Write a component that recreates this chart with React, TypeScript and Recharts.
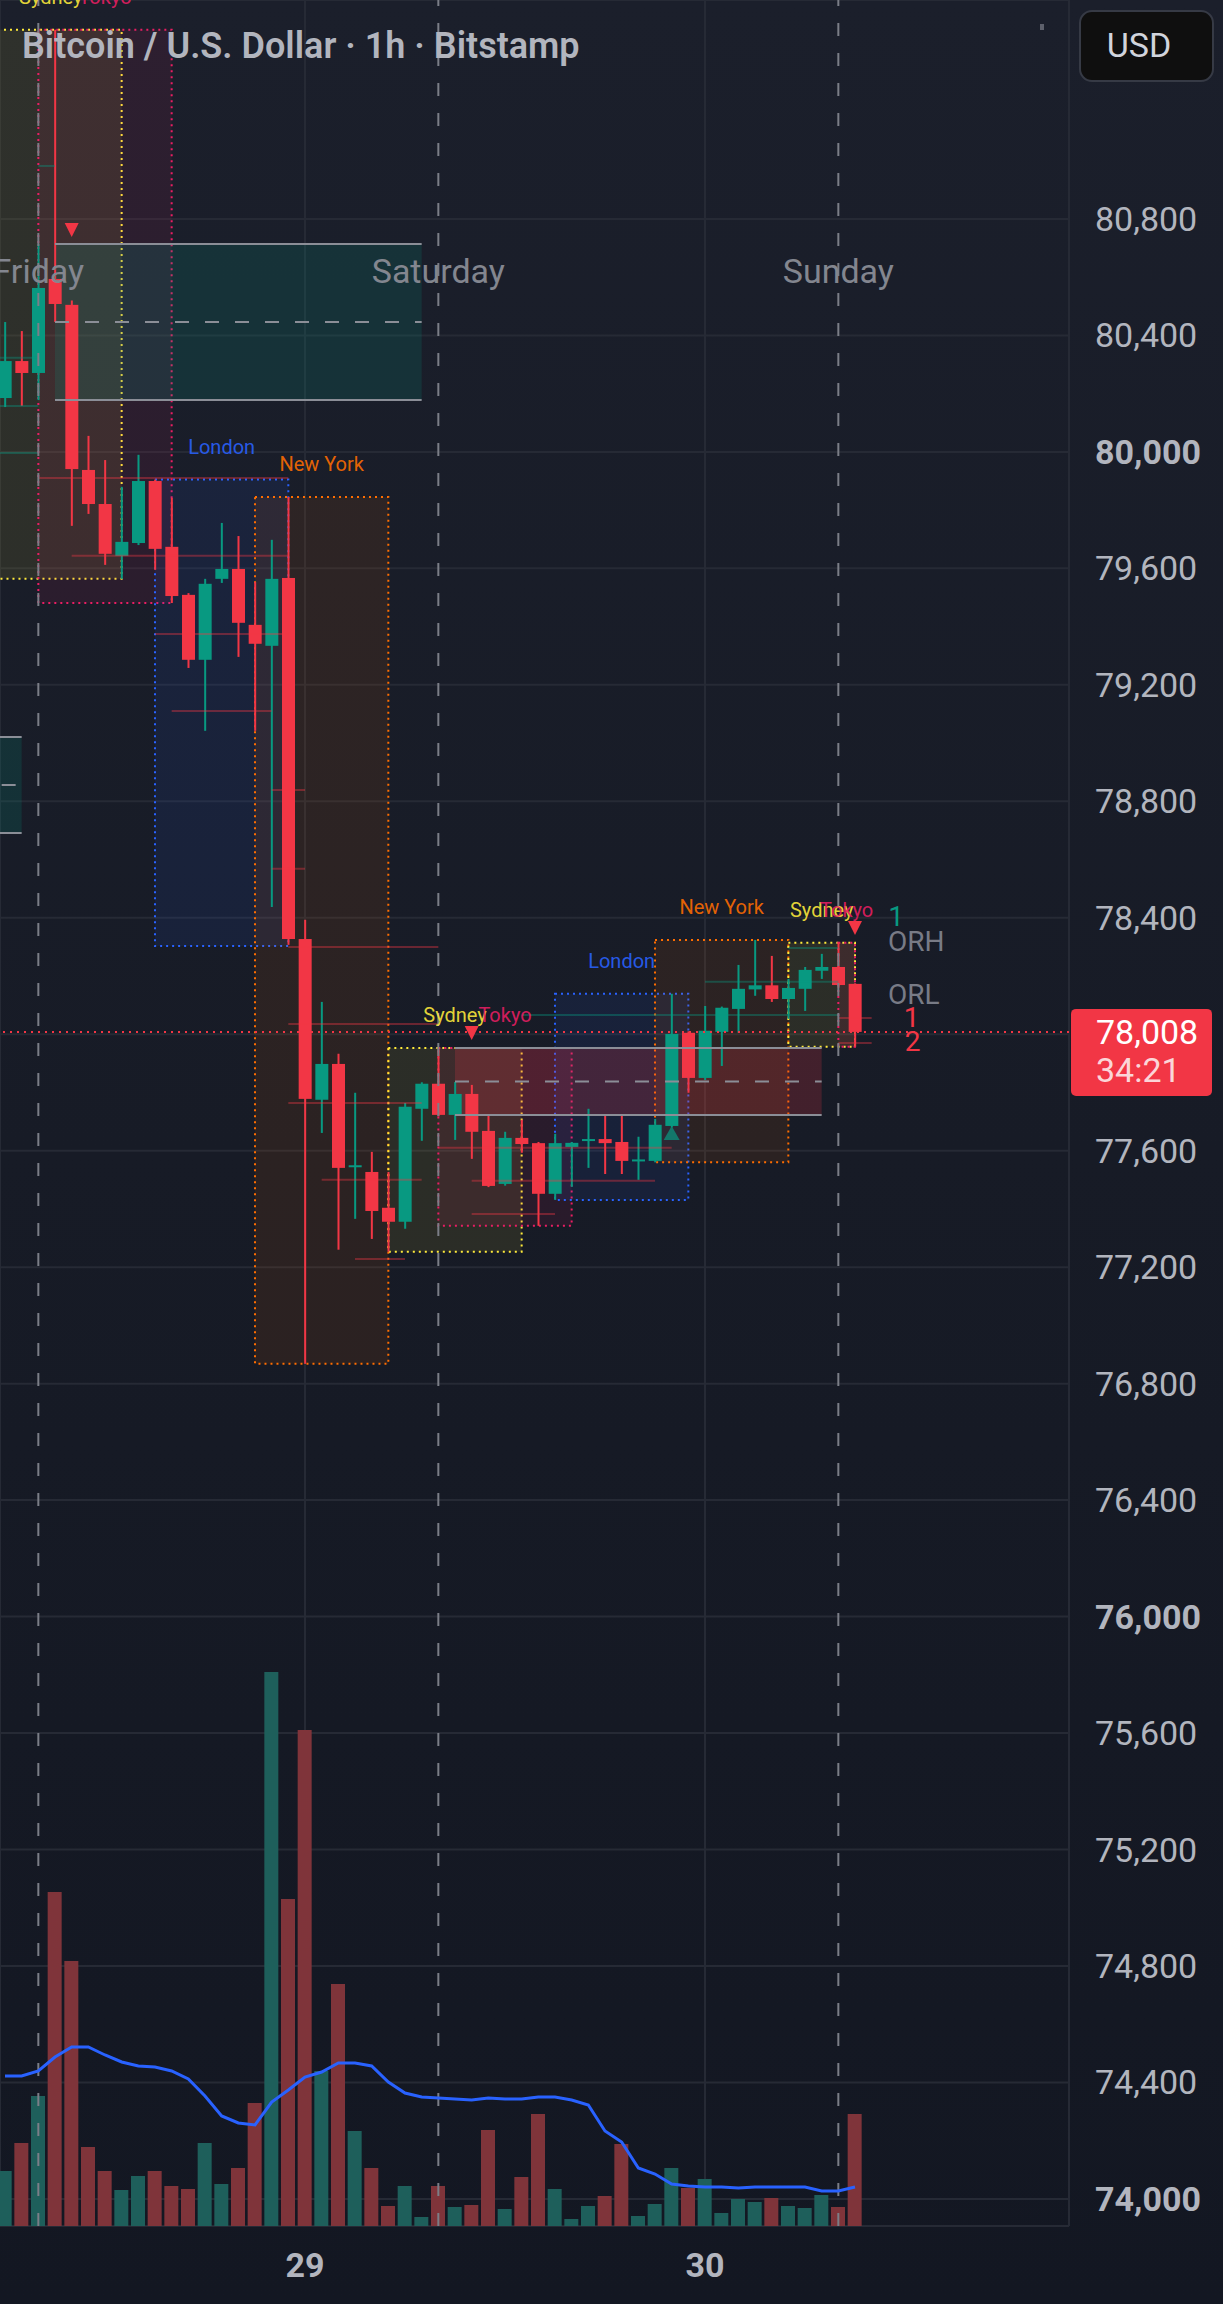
import {
  Bar,
  CartesianGrid,
  Cell,
  ComposedChart,
  Line,
  ReferenceArea,
  ReferenceDot,
  ReferenceLine,
  XAxis,
  YAxis,
} from "recharts";

const UP = "#089981";
const DOWN = "#f23645";
const VOL_UP = "#1e5f5b";
const VOL_DOWN = "#7f343a";
const TEXT = "#b2b5be";
const BORDER = "#8b8e97";
const FONT = "Roboto, 'Open Sans', sans-serif";

// BTCUSD 1h (Bitstamp), first bar = 28th 06:00
const opens = [80185, 80312, 80271, 80594, 80505, 79938, 79821, 79643, 79687, 79900, 79674, 79509, 79286, 79564, 79598, 79406, 79334, 79567, 78327, 77775, 77898, 77545, 77527, 77404, 77356, 77744, 77830, 77723, 77795, 77668, 77486, 77644, 77626, 77452, 77613, 77636, 77640, 77630, 77565, 77565, 77685, 78005, 77850, 78008, 78087, 78154, 78168, 78121, 78156, 78218, 78231, 78173];
const highs = [80446, 80415, 80714, 81450, 80520, 80055, 79972, 79880, 79990, 79905, 79842, 79515, 79564, 79756, 79711, 79553, 79698, 79845, 78393, 78111, 77933, 77799, 77596, 77527, 77764, 77835, 77953, 77836, 77826, 77723, 77665, 77706, 77630, 77658, 77630, 77744, 77723, 77723, 77648, 77709, 78139, 78010, 78097, 78095, 78238, 78324, 78269, 78190, 78231, 78276, 78314, 78175];
const lows = [80154, 80158, 80178, 80446, 79746, 79787, 79612, 79564, 79680, 79595, 79481, 79258, 79042, 79550, 79296, 79042, 78437, 78307, 76868, 77661, 77260, 77366, 77297, 77253, 77332, 77634, 77718, 77637, 77572, 77475, 77480, 77593, 77342, 77431, 77476, 77541, 77520, 77520, 77500, 77560, 77680, 77799, 77843, 77891, 78005, 78132, 78111, 78053, 78080, 78190, 78160, 77957];
const closes = [80312, 80271, 80563, 80508, 79941, 79821, 79650, 79691, 79900, 79667, 79505, 79286, 79547, 79598, 79413, 79341, 79564, 78327, 77778, 77898, 77541, 77550, 77393, 77356, 77751, 77830, 77723, 77795, 77665, 77479, 77644, 77623, 77452, 77626, 77627, 77640, 77626, 77565, 77570, 77689, 78001, 77850, 78012, 78091, 78156, 78168, 78121, 78159, 78221, 78231, 78169, 78008];
const volumes = [11, 16.6, 26, 66.8, 53, 15.8, 11, 7.2, 10, 11, 8, 7.4, 16.6, 8.4, 11.6, 24.6, 110.8, 65.4, 99.2, 31, 48.4, 19, 11.6, 4, 8, 1.8, 8, 3.8, 4.2, 19.2, 3.4, 9.8, 22.4, 7.4, 1.4, 4, 6, 16.4, 2, 4.4, 11.6, 7.6, 9.4, 2.6, 5.4, 4.8, 5.6, 4, 3.6, 6.2, 3.8, 22.4];
const volumeMA = [30, 30, 31, 33.8, 35.8, 35.8, 34.2, 32.8, 32, 31.8, 31, 29.4, 26, 22, 20.6, 20.2, 24.8, 27.2, 29.8, 30.8, 32.6, 32.6, 32, 28.8, 26.6, 25.8, 25.6, 25.4, 25.2, 25.6, 25.4, 25.4, 25.8, 25.8, 25.2, 24.2, 19, 16.8, 11.6, 10.4, 8.4, 8, 7.8, 7.8, 7.6, 7.8, 7.8, 7.8, 7.8, 7, 7, 7.8];

const priceTicks = [74000, 74400, 74800, 75200, 75600, 76000, 76400, 76800, 77200, 77600, 78000, 78400, 78800, 79200, 79600, 80000, 80400, 80800];
const dayTicks = [18, 42];
const dayTickLabels = ["29", "30"];
const dayStarts = [2, 26, 50];
const dayNames = ["Friday", "Saturday", "Sunday"];
const countdown = "34:21";

// sessions: name, first bar, last bar, high, low
const sessions: [string, number, number, number, number][] = [
  ["Sydney", -1.5, 7, 81450, 79564],
  ["Tokyo", 2, 10, 81450, 79481],
  ["London", 9, 17, 79905, 78303],
  ["New York", 15, 23, 79845, 76868],
  ["Sydney", 23, 31, 77953, 77253],
  ["Tokyo", 26, 34, 77953, 77342],
  ["London", 33, 41, 78139, 77431],
  ["New York", 39, 47, 78324, 77560],
  ["Sydney", 47, 51, 78314, 77957],
  ["Tokyo", 50, 51, 78314, 77957],
];
const sessionColors: Record<string, string> = {
  Sydney: "#ffeb3b",
  Tokyo: "#e91e63",
  London: "#2962ff",
  "New York": "#ff6d00",
};

// order-block style zones: from, to, top, bottom, direction
const zones: [number, number, number, number, "up" | "down"][] = [
  [-2, 1, 79021, 78691, "up"],
  [3, 25, 80714, 80178, "up"],
  [27, 49, 77953, 77723, "down"],
];

// faint levels: from, to, price, direction
const levels: [number, number, number, "up" | "down"][] = [
  [2, 17, 79910, "down"],
  [4, 17, 79643, "down"],
  [9, 17, 79375, "down"],
  [10, 16, 79110, "down"],
  [16, 18, 78839, "down"],
  [16, 18, 78568, "down"],
  [17, 26, 78300, "down"],
  [17, 26, 78035, "down"],
  [17, 25, 77764, "down"],
  [19, 25, 77500, "down"],
  [21, 24, 77228, "down"],
  [26, 40, 77610, "down"],
  [28, 39, 77497, "down"],
  [28, 33, 77383, "down"],
  [50, 52, 78056, "down"],
  [50, 52, 77970, "down"],
  [-1, 2, 80323, "up"],
  [-1, 2, 80158, "up"],
  [-1, 2, 79996, "up"],
  [2, 3, 80982, "up"],
  [31, 50, 78066, "up"],
  [42, 50, 78180, "up"],
  [47, 50, 78296, "up"],
];

// signal triangles: bar, tip price, direction
const markers: [number, number, "up" | "down"][] = [
  [4, 80738, "down"],
  [28, 77980, "down"],
  [40, 77685, "up"],
  [51, 78341, "down"],
];

// right side tags: text, bar position, price, colour, anchor
const tags: [string, number, number, string, "start" | "middle"][] = [
  ["1", 53.46, 78403, UP, "middle"],
  ["ORH", 52.98, 78317, "#787b86", "start"],
  ["ORL", 52.98, 78138, "#787b86", "start"],
  ["1", 54.4, 78059, DOWN, "middle"],
  ["2", 54.45, 77974, DOWN, "middle"],
];

const lastClose = closes[closes.length - 1];
const fmt = (v: number) => v.toLocaleString("en-US");

const data = opens.map((o, i) => ({
  i,
  o,
  h: highs[i],
  l: lows[i],
  c: closes[i],
  range: [lows[i], highs[i]],
  vol: volumes[i],
  ma: volumeMA[i],
}));

const X_DOMAIN: [number, number] = [-0.3, 63.84];

function Candle(props: any) {
  const { x, y, width, height, payload } = props;
  const { o, h, l, c } = payload;
  const top0 = Math.min(y, y + height);
  const full = Math.abs(height);
  const span = h - l || 1;
  const py = (p: number) => top0 + ((h - p) / span) * full;
  const color = c >= o ? UP : DOWN;
  const cx = x + width / 2;
  const bt = py(Math.max(o, c));
  const bb = py(Math.min(o, c));
  return (
    <g>
      <rect x={cx - 1} y={top0} width={2} height={full} fill={color} />
      <rect x={x} y={bt} width={width} height={Math.max(bb - bt, 2)} fill={color} />
    </g>
  );
}

function PriceTick(props: any) {
  const { x, y, payload } = props;
  const v = payload.value;
  if (Math.abs(v - lastClose) < 150) return <g />;
  return (
    <text
      x={x + 24}
      y={y}
      dominantBaseline="central"
      fill={TEXT}
      fontSize={34}
      fontFamily={FONT}
      fontWeight={v % 2000 === 0 ? 700 : 400}
    >
      {fmt(v)}
    </text>
  );
}

function TimeTick(props: any) {
  const { x, y, payload } = props;
  const label = dayTickLabels[dayTicks.indexOf(payload.value)];
  return (
    <text
      x={x}
      y={y + 37}
      textAnchor="middle"
      dominantBaseline="central"
      fill={TEXT}
      fontSize={34}
      fontWeight={700}
      fontFamily={FONT}
    >
      {label}
    </text>
  );
}

function PriceTag(props: any) {
  const { viewBox } = props;
  if (!viewBox) return null;
  const left = viewBox.x + viewBox.width + 2;
  const y = viewBox.y;
  return (
    <g>
      <rect x={left} y={y - 23} width={141} height={87} rx={5} fill={DOWN} />
      <text x={left + 25} y={y} dominantBaseline="central" fill="#ffffff" fontSize={34} fontFamily={FONT}>
        {fmt(lastClose)}
      </text>
      <text x={left + 25} y={y + 38} dominantBaseline="central" fill="#fbd5d8" fontSize={34} fontFamily={FONT}>
        {countdown}
      </text>
    </g>
  );
}

export default function App() {
  return (
    <div
      style={{
        position: "absolute",
        left: 0,
        top: 0,
        width: 1223,
        height: 2304,
        overflow: "hidden",
        background: "linear-gradient(180deg, #1b1f2b 0%, #171b26 50%, #131722 100%)",
        fontFamily: FONT,
      }}
    >
      <ComposedChart width={1223} height={2304} data={data} margin={{ top: 0, right: 0, bottom: 0, left: 0 }}>
        <CartesianGrid xAxisId="x" yAxisId="p" stroke="#262a35" strokeWidth={2} />
        <XAxis
          xAxisId="x"
          type="number"
          dataKey="i"
          domain={X_DOMAIN}
          allowDataOverflow
          ticks={dayTicks}
          interval={0}
          height={78}
          axisLine={false}
          tickLine={false}
          tickSize={0}
          tick={<TimeTick />}
        />
        <XAxis xAxisId="xv" type="number" dataKey="i" domain={X_DOMAIN} allowDataOverflow hide />
        <YAxis
          yAxisId="p"
          orientation="right"
          width={154}
          domain={[73907, 81552]}
          allowDataOverflow
          ticks={priceTicks}
          interval={0}
          axisLine={false}
          tickLine={false}
          tickSize={0}
          tick={<PriceTick />}
        />
        <YAxis yAxisId="v" domain={[0, 445.2]} allowDataOverflow hide />

        {sessions.map(([name, from, to, hi, lo], k) => (
          <ReferenceArea
            key={`s${k}`}
            xAxisId="x"
            yAxisId="p"
            x1={from}
            x2={to}
            y1={lo}
            y2={hi}
            ifOverflow="hidden"
            fill={sessionColors[name]}
            fillOpacity={0.09}
            stroke={sessionColors[name]}
            strokeWidth={2}
            strokeDasharray="2 4"
          />
        ))}

        {zones.map(([from, to, top, bottom, dir], k) => (
          <ReferenceArea
            key={`z${k}`}
            xAxisId="x"
            yAxisId="p"
            x1={from}
            x2={to}
            y1={bottom}
            y2={top}
            ifOverflow="hidden"
            fill={dir === "up" ? UP : DOWN}
            fillOpacity={dir === "up" ? 0.17 : 0.2}
            strokeWidth={0}
          />
        ))}
        {zones.flatMap(([from, to, top, bottom], k) =>
          [top, bottom, (top + bottom) / 2].map((p, j) => (
            <ReferenceLine
              key={`zl${k}-${j}`}
              xAxisId="x"
              yAxisId="p"
              segment={[
                { x: from, y: p },
                { x: to, y: p },
              ]}
              ifOverflow="hidden"
              stroke={BORDER}
              strokeWidth={2}
              strokeDasharray={j === 2 ? "14 16" : undefined}
            />
          ))
        )}

        {levels.map(([from, to, p, dir], k) => (
          <ReferenceLine
            key={`l${k}`}
            xAxisId="x"
            yAxisId="p"
            segment={[
              { x: from, y: p },
              { x: to, y: p },
            ]}
            ifOverflow="hidden"
            stroke={dir === "up" ? UP : DOWN}
            strokeOpacity={0.38}
            strokeWidth={2}
          />
        ))}

        {dayStarts.map((d, k) => (
          <ReferenceLine
            key={`d${k}`}
            xAxisId="x"
            yAxisId="p"
            x={d}
            stroke="#7b7e87"
            strokeWidth={2}
            strokeDasharray="13 17"
          />
        ))}

        <Bar xAxisId="xv" yAxisId="v" dataKey="vol" barSize={14} isAnimationActive={false}>
          {data.map((d, k) => (
            <Cell key={k} fill={d.c >= d.o ? VOL_UP : VOL_DOWN} />
          ))}
        </Bar>
        <Line
          xAxisId="xv"
          yAxisId="v"
          dataKey="ma"
          type="linear"
          stroke="#2962ff"
          strokeWidth={3}
          dot={false}
          activeDot={false}
          isAnimationActive={false}
        />
        <Bar
          xAxisId="x"
          yAxisId="p"
          dataKey="range"
          barSize={13}
          isAnimationActive={false}
          shape={(p: any) => <Candle {...p} />}
        />

        {dayStarts.map((d, k) => (
          <ReferenceDot
            key={`dn${k}`}
            xAxisId="x"
            yAxisId="p"
            x={d}
            y={80580}
            r={0}
            ifOverflow="visible"
            shape={(p: any) => (
              <text x={p.cx} y={p.cy} textAnchor="middle" fill="#83868f" fontSize={34} fontFamily={FONT}>
                {dayNames[k]}
              </text>
            )}
          />
        ))}

        {sessions.map(([name, from, to, hi], k) => (
          <ReferenceDot
            key={`sn${k}`}
            xAxisId="x"
            yAxisId="p"
            x={(from + to) / 2}
            y={hi}
            r={0}
            ifOverflow="visible"
            shape={(p: any) => (
              <text
                x={p.cx}
                y={p.cy - 26}
                textAnchor="middle"
                fill={sessionColors[name]}
                fillOpacity={0.9}
                fontSize={20}
                fontFamily={FONT}
              >
                {name}
              </text>
            )}
          />
        ))}

        {markers.map(([bar, price, dir], k) => (
          <ReferenceDot
            key={`m${k}`}
            xAxisId="x"
            yAxisId="p"
            x={bar}
            y={price}
            r={0}
            ifOverflow="visible"
            shape={(p: any) =>
              dir === "down" ? (
                <polygon
                  points={`${p.cx - 7},${p.cy - 14} ${p.cx + 7},${p.cy - 14} ${p.cx},${p.cy}`}
                  fill={DOWN}
                />
              ) : (
                <polygon
                  points={`${p.cx},${p.cy} ${p.cx - 8},${p.cy + 14} ${p.cx + 8},${p.cy + 14}`}
                  fill={UP}
                  fillOpacity={0.7}
                />
              )
            }
          />
        ))}

        {tags.map(([text, bar, price, color, anchor], k) => (
          <ReferenceDot
            key={`t${k}`}
            xAxisId="x"
            yAxisId="p"
            x={bar}
            y={price}
            r={0}
            ifOverflow="visible"
            shape={(p: any) => (
              <text
                x={p.cx}
                y={p.cy}
                textAnchor={anchor}
                dominantBaseline="central"
                fill={color}
                fontSize={28}
                fontFamily={FONT}
              >
                {text}
              </text>
            )}
          />
        ))}

        <ReferenceLine
          xAxisId="x"
          yAxisId="p"
          y={lastClose}
          stroke={DOWN}
          strokeWidth={2}
          strokeDasharray="2 5"
          label={<PriceTag />}
        />
      </ComposedChart>

      <svg
        width={1223}
        height={2304}
        style={{ position: "absolute", left: 0, top: 0, pointerEvents: "none" }}
      >
        <text x={22} y={58} fontSize={36} fontWeight={600} fill={TEXT} fontFamily={FONT}>
          Bitcoin / U.S. Dollar · 1h · Bitstamp
        </text>
        <rect x={1040} y={24} width={4} height={6} fill="#5d606b" />
        <rect x={1080} y={11} width={133} height={70} rx={12} fill="#0f0f0f" stroke="#363a45" strokeWidth={2} />
        <text x={1139} y={57} textAnchor="middle" fontSize={34} fill="#d1d4dc" fontFamily={FONT}>
          USD
        </text>
      </svg>
    </div>
  );
}
